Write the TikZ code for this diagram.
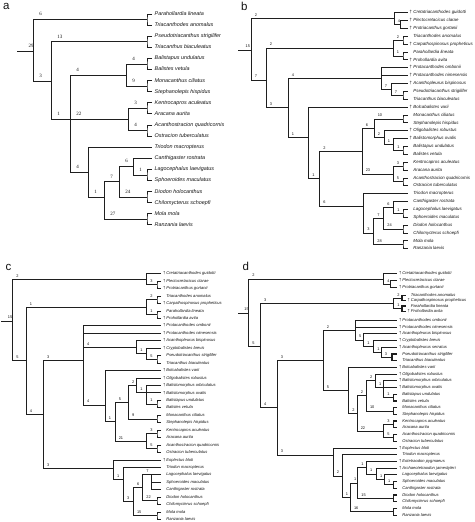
\documentclass[tikz,border=0pt]{standalone}
\usepackage{fontspec}
\setmainfont{Liberation Sans}
\newfontfamily\serifnum{Liberation Serif}
\usepackage{tikz}
\definecolor{Linea}{HTML}{1F1F1F}
\definecolor{Texto}{HTML}{141414}
\newcommand{\fos}{\textup{†}\ }
\newcommand{\viv}{\phantom{\textup{†}\ }}

\begin{document}
\begin{tikzpicture}[
  x=1pt,y=-1pt,
  rama/.style={draw=Linea,line width=0.9pt},
  par/.style={rama},
  pard/.style={rama,line width=1.25pt},
  taxa/.style={anchor=west,inner xsep=2.5pt,inner ysep=0pt,text=Texto,text height=3.9pt,text depth=1.1pt,font=\fontsize{5.4}{6}\selectfont\itshape},
  taxb/.style={taxa,inner xsep=2pt,text height=3.2pt,text depth=0.9pt,font=\fontsize{4.4}{5}\selectfont\itshape},
  taxc/.style={taxa,inner xsep=1.8pt,text height=3pt,text depth=0.8pt,font=\fontsize{4.1}{5}\selectfont\itshape},
  numa/.style={pos=0.5,anchor=south west,xshift=6pt,inner xsep=0pt,inner ysep=3.2pt,text=Texto,font=\serifnum\fontsize{5}{5}\selectfont},
  numb/.style={pos=0.5,anchor=south west,xshift=3.3pt,inner xsep=0pt,inner ysep=1.7pt,text=Texto,font=\fontsize{3.9}{4}\selectfont},
  raiz/.style={anchor=south,xshift=0pt},
  panel/.style={anchor=base west,inner sep=0pt,text=Texto,font=\fontsize{11.5}{12}\selectfont}
]
  \fill[white] (0,0) rectangle (474,522);
  \useasboundingbox (0,0) rectangle (474,522);

  \node[panel] (letA) at (3,9.3) {a};
  \node[panel] (letB) at (241,10) {b};
  \node[panel] (letC) at (5.5,270.7) {c};
  \node[panel] (letD) at (242.5,270.7) {d};

  % ---------------- a ----------------
  \coordinate (aR) at (17,51);
  \coordinate (a0) at (33,51);
  \coordinate (aP1) at (147,19.55);
  \coordinate (a1) at (51,81);
  \coordinate (aP2) at (147,41.75);
  \coordinate (a2) at (70,119.4);
  \coordinate (a3) at (126,75);
  \coordinate (aP3) at (147,63.95);
  \coordinate (aP4) at (147,86.15);
  \coordinate (a4) at (128,119.4);
  \coordinate (aP5) at (147,108.35);
  \coordinate (aP6) at (147,130.55);
  \coordinate (a5) at (88,172.2);
  \coordinate (a6) at (104,197.15);
  \coordinate (a7) at (119,181.9);
  \coordinate (a8) at (133,166.6);
  \coordinate (aP7) at (147,174.95);
  \coordinate (aP8) at (147,197.15);
  \coordinate (aP9) at (147,219.35);

  \node[taxa] (aL1) at (152,14.0) {Parahollardia lineata};
  \node[taxa] (aL2) at (152,25.1) {Triacanthodes anomalus};
  \node[taxa] (aL3) at (152,36.2) {Pseudotriacanthus strigilifer};
  \node[taxa] (aL4) at (152,47.3) {Triacanthus biaculeatus};
  \node[taxa] (aL5) at (152,58.4) {Balistapus undulatus};
  \node[taxa] (aL6) at (152,69.5) {Balistes vetula};
  \node[taxa] (aL7) at (152,80.6) {Monacanthus ciliatus};
  \node[taxa] (aL8) at (152,91.7) {Stephanolepis hispidus};
  \node[taxa] (aL9) at (152,102.8) {Kentrocapros aculeatus};
  \node[taxa] (aL10) at (152,113.9) {Aracana aurita};
  \node[taxa] (aL11) at (152,125.0) {Acanthostracion quadricornis};
  \node[taxa] (aL12) at (152,136.1) {Ostracion tuberculatus};
  \node[taxa] (aL13) at (152,147.2) {Triodon macropterus};
  \node[taxa] (aL14) at (152,158.3) {Canthigaster rostrata};
  \node[taxa] (aL15) at (152,169.4) {Lagocephalus laevigatus};
  \node[taxa] (aL16) at (152,180.5) {Sphoeroides maculatus};
  \node[taxa] (aL17) at (152,191.6) {Diodon holocanthus};
  \node[taxa] (aL18) at (152,202.7) {Chilomycterus schoepfi};
  \node[taxa] (aL19) at (152,213.8) {Mola mola};
  \node[taxa] (aL20) at (152,224.9) {Ranzania laevis};

  \draw[rama] (aR) -- node[numa,raiz] {29} (a0);
  \draw[rama] (a0) |- node[numa] {6} (aP1);
  \draw[rama] (a0) |- node[numa] {3} (a1);
  \draw[rama] (a1) |- node[numa] {13} (aP2);
  \draw[rama] (a1) |- node[numa] {1} (a2);
  \draw[rama] (a2) |- node[numa] {4} (a3);
  \draw[rama] (a2) |- node[numa] {22} (a4);
  \draw[rama] (a2) |- node[numa] {4} (a5);
  \draw[rama] (a3) |- node[numa] {4} (aP3);
  \draw[rama] (a3) |- node[numa] {9} (aP4);
  \draw[rama] (a4) |- node[numa] {3} (aP5);
  \draw[rama] (a4) |- node[numa] {4} (aP6);
  \draw[rama] (a5) |- (aL13.west);
  \draw[rama] (a5) |- node[numa] {1} (a6);
  \draw[rama] (a6) |- node[numa] {7} (a7);
  \draw[rama] (a6) |- node[numa] {27} (aP9);
  \draw[rama] (a7) |- node[numa] {6} (a8);
  \draw[rama] (a7) |- node[numa] {24} (aP8);
  \draw[rama] (a8) |- (aL14.west);
  \draw[rama] (a8) |- node[numa] {1} (aP7);
  \draw[par] (aL1.west) -| (aP1) |- (aL2.west);
  \draw[par] (aL3.west) -| (aP2) |- (aL4.west);
  \draw[par] (aL5.west) -| (aP3) |- (aL6.west);
  \draw[par] (aL7.west) -| (aP4) |- (aL8.west);
  \draw[par] (aL9.west) -| (aP5) |- (aL10.west);
  \draw[par] (aL11.west) -| (aP6) |- (aL12.west);
  \draw[par] (aL15.west) -| (aP7) |- (aL16.west);
  \draw[par] (aL17.west) -| (aP8) |- (aL18.west);
  \draw[par] (aL19.west) -| (aP9) |- (aL20.west);

  % ---------------- b ----------------
  \coordinate (bR) at (238,50);
  \coordinate (b0) at (251,50);
  \coordinate (bA) at (394,18.6);
  \coordinate (bP1) at (400.5,24.5);
  \coordinate (b1) at (266,80);
  \coordinate (bB) at (393,48.1);
  \coordinate (bP2) at (403,40.25);
  \coordinate (bP3) at (403,56);
  \coordinate (b2) at (288,107.5);
  \coordinate (bC) at (381,78.6);
  \coordinate (bD) at (391,89.4);
  \coordinate (bP4) at (403,95.3);
  \coordinate (b3) at (308.7,137.3);
  \coordinate (b4) at (319.7,178.6);
  \coordinate (b5) at (362,151.2);
  \coordinate (b7) at (374,128.3);
  \coordinate (bP5) at (403,118.95);
  \coordinate (b8) at (384,137.6);
  \coordinate (b9) at (393.7,144.5);
  \coordinate (bP6) at (403,150.4);
  \coordinate (bE) at (393,174.05);
  \coordinate (bP7) at (403,166.2);
  \coordinate (bP8) at (403,181.9);
  \coordinate (b6) at (363.7,206);
  \coordinate (bF) at (373.7,233);
  \coordinate (bG) at (383.7,218.3);
  \coordinate (bH) at (393.7,207.5);
  \coordinate (bP9) at (403,213.4);
  \coordinate (bP10) at (403,229.1);
  \coordinate (bP11) at (403,244.9);

  \node[taxb] (bL1) at (407.5,12.7) {\fos Cretatriacanthodes guidotti};
  \node[taxb] (bL2) at (407.5,20.57) {\fos Plectocretacicus clarae};
  \node[taxb] (bL3) at (407.5,28.44) {\fos Protriacanthus gortanii};
  \node[taxb] (bL4) at (407.5,36.31) {\viv Triacanthodes anomalus};
  \node[taxb] (bL5) at (407.5,44.18) {\fos Carpathospinosus propheticus};
  \node[taxb] (bL6) at (407.5,52.05) {\viv Parahollardia lineata};
  \node[taxb] (bL7) at (407.5,59.92) {\fos Prohollardia avita};
  \node[taxb] (bL8) at (407.5,67.79) {\fos Protacanthodes ombonii};
  \node[taxb] (bL9) at (407.5,75.66) {\fos Protacanthodes nimesensis};
  \node[taxb] (bL10) at (407.5,83.53) {\fos Acanthopleurus bispinosus};
  \node[taxb] (bL11) at (407.5,91.4) {\viv Pseudotriacanthus strigilifer};
  \node[taxb] (bL12) at (407.5,99.27) {\viv Triacanthus biaculeatus};
  \node[taxb] (bL13) at (407.5,107.14) {\fos Bolcabalistes varii};
  \node[taxb] (bL14) at (407.5,115.01) {\viv Monacanthus ciliatus};
  \node[taxb] (bL15) at (407.5,122.88) {\viv Stephanolepis hispidus};
  \node[taxb] (bL16) at (407.5,130.75) {\fos Oligobalistes robustus};
  \node[taxb] (bL17) at (407.5,138.62) {\fos Balistomorphus ovalis};
  \node[taxb] (bL18) at (407.5,146.49) {\viv Balistapus undulatus};
  \node[taxb] (bL19) at (407.5,154.36) {\viv Balistes vetula};
  \node[taxb] (bL20) at (407.5,162.23) {\viv Kentrocapros aculeatus};
  \node[taxb] (bL21) at (407.5,170.1) {\viv Aracana aurita};
  \node[taxb] (bL22) at (407.5,177.97) {\viv Acanthostracion quadricornis};
  \node[taxb] (bL23) at (407.5,185.84) {\viv Ostracion tuberculatus};
  \node[taxb] (bL24) at (407.5,193.71) {\viv Triodon macropterus};
  \node[taxb] (bL25) at (407.5,201.58) {\viv Canthigaster rostrata};
  \node[taxb] (bL26) at (407.5,209.45) {\viv Lagocephalus laevigatus};
  \node[taxb] (bL27) at (407.5,217.32) {\viv Sphoeroides maculatus};
  \node[taxb] (bL28) at (407.5,225.19) {\viv Diodon holocanthus};
  \node[taxb] (bL29) at (407.5,233.06) {\viv Chilomycterus schoepfi};
  \node[taxb] (bL30) at (407.5,240.93) {\viv Mola mola};
  \node[taxb] (bL31) at (407.5,248.8) {\viv Ranzania laevis};

  \draw[rama] (bR) -- node[numb,raiz] {15} (b0);
  \draw[rama] (b0) |- node[numb] {2} (bA);
  \draw[rama] (b0) |- node[numb] {7} (b1);
  \draw[rama] (bA) |- (bL1.west);
  \draw[rama] (bA) |- node[numb] {4} (bP1);
  \draw[rama] (b1) |- node[numb] {2} (bB);
  \draw[rama] (b1) |- node[numb] {3} (b2);
  \draw[rama] (bB) |- node[numb] {2} (bP2);
  \draw[rama] (bB) |- node[numb] {1} (bP3);
  \draw[rama] (b2) |- node[numb] {4} (bC);
  \draw[rama] (b2) |- node[numb] {1} (b3);
  \draw[rama] (bC) |- (bL8.west);
  \draw[rama] (bC) |- (bL9.west);
  \draw[rama] (bC) |- node[numb] {7} (bD);
  \draw[rama] (bD) |- (bL10.west);
  \draw[rama] (bD) |- node[numb] {7} (bP4);
  \draw[rama] (b3) |- (bL13.west);
  \draw[rama] (b3) |- node[numb] {1} (b4);
  \draw[rama] (b4) |- node[numb] {2} (b5);
  \draw[rama] (b4) |- node[numb] {6} (b6);
  \draw[rama] (b5) |- node[numb] {6} (b7);
  \draw[rama] (b5) |- node[numb] {23} (bE);
  \draw[rama] (b7) |- node[numb] {10} (bP5);
  \draw[rama] (b7) |- node[numb] {2} (b8);
  \draw[rama] (b8) |- (bL16.west);
  \draw[rama] (b8) |- node[numb] {1} (b9);
  \draw[rama] (b9) |- (bL17.west);
  \draw[rama] (b9) |- node[numb] {1} (bP6);
  \draw[rama] (bE) |- node[numb] {3} (bP7);
  \draw[rama] (bE) |- node[numb] {5} (bP8);
  \draw[rama] (b6) |- (bL24.west);
  \draw[rama] (b6) |- node[numb] {3} (bF);
  \draw[rama] (bF) |- node[numb] {7} (bG);
  \draw[rama] (bF) |- node[numb] {28} (bP11);
  \draw[rama] (bG) |- node[numb] {6} (bH);
  \draw[rama] (bG) |- node[numb] {24} (bP10);
  \draw[rama] (bH) |- (bL25.west);
  \draw[rama] (bH) |- node[numb] {1} (bP9);
  \draw[par] (bL2.west) -| (bP1) |- (bL3.west);
  \draw[par] (bL4.west) -| (bP2) |- (bL5.west);
  \draw[par] (bL6.west) -| (bP3) |- (bL7.west);
  \draw[par] (bL11.west) -| (bP4) |- (bL12.west);
  \draw[par] (bL14.west) -| (bP5) |- (bL15.west);
  \draw[par] (bL18.west) -| (bP6) |- (bL19.west);
  \draw[par] (bL20.west) -| (bP7) |- (bL21.west);
  \draw[par] (bL22.west) -| (bP8) |- (bL23.west);
  \draw[par] (bL26.west) -| (bP9) |- (bL27.west);
  \draw[par] (bL28.west) -| (bP10) |- (bL29.west);
  \draw[par] (bL30.west) -| (bP11) |- (bL31.west);

  % ---------------- c ----------------
  \coordinate (cR) at (1,321);
  \coordinate (c0) at (12.7,321);
  \coordinate (cA) at (146.7,279.3);
  \coordinate (cP1) at (157,284.9);
  \coordinate (c1) at (26,360.3);
  \coordinate (cB) at (146.7,307.2);
  \coordinate (cP2) at (157,299.8);
  \coordinate (cP3) at (157,314.7);
  \coordinate (c2) at (43.3,414.3);
  \coordinate (c3) at (83.3,360.3);
  \coordinate (c4) at (136.7,347.3);
  \coordinate (c6) at (146.7,353.8);
  \coordinate (cP4) at (157,359.4);
  \coordinate (c5) at (105,405);
  \coordinate (c7) at (115,421.8);
  \coordinate (c8) at (128.3,402.2);
  \coordinate (c9) at (136.7,385.45);
  \coordinate (c10) at (146.7,392.9);
  \coordinate (cP5) at (157,404.1);
  \coordinate (cP6) at (157,419);
  \coordinate (cD) at (146.7,441.3);
  \coordinate (cP7) at (157,433.9);
  \coordinate (cP8) at (157,448.8);
  \coordinate (cC) at (113.3,468.3);
  \coordinate (c11) at (123.3,479.3);
  \coordinate (c12) at (133.3,501.9);
  \coordinate (c13) at (142.7,487.9);
  \coordinate (c14) at (151.7,474.85);
  \coordinate (cP9) at (157,500.9);
  \coordinate (cP10) at (157,515.8);

  \node[taxc] (cL1) at (161,273.7) {\fos Cretatriacanthodes guidotti};
  \node[taxc] (cL2) at (161,281.15) {\fos Plectocretacicus clarae};
  \node[taxc] (cL3) at (161,288.6) {\fos Protriacanthus gortanii};
  \node[taxc] (cL4) at (161,296.05) {\viv Triacanthodes anomalus};
  \node[taxc] (cL5) at (161,303.5) {\fos Carpathospinosus propheticus};
  \node[taxc] (cL6) at (161,310.95) {\viv Parahollardia lineata};
  \node[taxc] (cL7) at (161,318.4) {\fos Prohollardia avita};
  \node[taxc] (cL8) at (161,325.85) {\fos Protacanthodes ombonii};
  \node[taxc] (cL9) at (161,333.3) {\fos Protacanthodes nimesensis};
  \node[taxc] (cL10) at (161,340.75) {\fos Acanthopleurus bispinosus};
  \node[taxc] (cL11) at (161,348.2) {\fos Cryptobalistes brevis};
  \node[taxc] (cL12) at (161,355.65) {\viv Pseudotriacanthus strigilifer};
  \node[taxc] (cL13) at (161,363.1) {\viv Triacanthus biaculeatus};
  \node[taxc] (cL14) at (161,370.55) {\fos Bolcabalistes varii};
  \node[taxc] (cL15) at (161,378.0) {\fos Oligobalistes robustus};
  \node[taxc] (cL16) at (161,385.45) {\fos Balistomorphus orbiculatus};
  \node[taxc] (cL17) at (161,392.9) {\fos Balistomorphus ovalis};
  \node[taxc] (cL18) at (161,400.35) {\viv Balistapus undulatus};
  \node[taxc] (cL19) at (161,407.8) {\viv Balistes vetula};
  \node[taxc] (cL20) at (161,415.25) {\viv Monacanthus ciliatus};
  \node[taxc] (cL21) at (161,422.7) {\viv Stephanolepis hispidus};
  \node[taxc] (cL22) at (161,430.15) {\viv Kentrocapros aculeatus};
  \node[taxc] (cL23) at (161,437.6) {\viv Aracana aurita};
  \node[taxc] (cL24) at (161,445.05) {\viv Acanthostracion quadricornis};
  \node[taxc] (cL25) at (161,452.5) {\viv Ostracion tuberculatus};
  \node[taxc] (cL26) at (161,459.95) {\fos Eoplectus bloti};
  \node[taxc] (cL27) at (161,467.4) {\viv Triodon macropterus};
  \node[taxc] (cL28) at (161,474.85) {\viv Lagocephalus laevigatus};
  \node[taxc] (cL29) at (161,482.3) {\viv Sphoeroides maculatus};
  \node[taxc] (cL30) at (161,489.75) {\viv Canthigaster rostrata};
  \node[taxc] (cL31) at (161,497.2) {\viv Diodon holocanthus};
  \node[taxc] (cL32) at (161,504.65) {\viv Chilomycterus schoepfi};
  \node[taxc] (cL33) at (161,512.1) {\viv Mola mola};
  \node[taxc] (cL34) at (161,519.55) {\viv Ranzania laevis};

  \draw[rama] (cR) -- node[numb,raiz] {15} (c0);
  \draw[rama] (c0) |- node[numb] {2} (cA);
  \draw[rama] (c0) |- node[numb] {5} (c1);
  \draw[rama] (cA) |- (cL1.west);
  \draw[rama] (cA) |- node[numb] {3} (cP1);
  \draw[rama] (c1) |- node[numb] {1} (cB);
  \draw[rama] (c1) |- node[numb] {4} (c2);
  \draw[rama] (cB) |- node[numb] {2} (cP2);
  \draw[rama] (cB) |- node[numb] {1} (cP3);
  \draw[rama] (c2) |- node[numb] {3} (c3);
  \draw[rama] (c2) |- node[numb] {3} (cC);
  \draw[rama] (c3) |- (cL8.west);
  \draw[rama] (c3) |- (cL9.west);
  \draw[rama] (c3) |- node[numb] {4} (c4);
  \draw[rama] (c3) |- node[numb] {4} (c5);
  \draw[rama] (c4) |- (cL10.west);
  \draw[rama] (c4) |- node[numb] {1} (c6);
  \draw[rama] (c6) |- (cL11.west);
  \draw[rama] (c6) |- node[numb] {5} (cP4);
  \draw[rama] (c5) |- (cL14.west);
  \draw[rama] (c5) |- node[numb] {1} (c7);
  \draw[rama] (c7) |- node[numb] {5} (c8);
  \draw[rama] (c7) |- node[numb] {21} (cD);
  \draw[rama] (c8) |- node[numb] {2} (c9);
  \draw[rama] (c8) |- node[numb] {9} (cP6);
  \draw[rama] (c9) |- (cL15.west);
  \draw[rama] (c9) |- node[numb] {1} (c10);
  \draw[rama] (c10) |- (cL16.west);
  \draw[rama] (c10) |- (cL17.west);
  \draw[rama] (c10) |- node[numb] {1} (cP5);
  \draw[rama] (cD) |- node[numb] {3} (cP7);
  \draw[rama] (cD) |- node[numb] {5} (cP8);
  \draw[rama] (cC) |- (cL26.west);
  \draw[rama] (cC) |- node[numb] {1} (c11);
  \draw[rama] (c11) |- (cL27.west);
  \draw[rama] (c11) |- node[numb] {3} (c12);
  \draw[rama] (c12) |- node[numb] {6} (c13);
  \draw[rama] (c12) |- node[numb] {15} (cP10);
  \draw[rama] (c13) |- node[numb] {7} (c14);
  \draw[rama] (c13) |- node[numb] {22} (cP9);
  \draw[rama] (c14) |- (cL28.west);
  \draw[rama] (c14) |- (cL29.west);
  \draw[rama] (c14) |- (cL30.west);
  \draw[par] (cL2.west) -| (cP1) |- (cL3.west);
  \draw[par] (cL4.west) -| (cP2) |- (cL5.west);
  \draw[par] (cL6.west) -| (cP3) |- (cL7.west);
  \draw[par] (cL12.west) -| (cP4) |- (cL13.west);
  \draw[par] (cL18.west) -| (cP5) |- (cL19.west);
  \draw[par] (cL20.west) -| (cP6) |- (cL21.west);
  \draw[par] (cL22.west) -| (cP7) |- (cL23.west);
  \draw[par] (cL24.west) -| (cP8) |- (cL25.west);
  \draw[par] (cL31.west) -| (cP9) |- (cL32.west);
  \draw[par] (cL33.west) -| (cP10) |- (cL34.west);

  % ---------------- d ----------------
  \coordinate (dR) at (238,313);
  \coordinate (d0) at (248.7,313);
  \coordinate (dA) at (383.7,279);
  \coordinate (dP1) at (390.7,284.3);
  \coordinate (d1) at (260.3,346.3);
  \coordinate (dB) at (393.7,303.4);
  \coordinate (dP2) at (402,298.2);
  \coordinate (dP3) at (402,308.7);
  \coordinate (d2) at (277,407.7);
  \coordinate (d3) at (323,360.4);
  \coordinate (d4) at (355.3,330.2);
  \coordinate (d6) at (363.7,340);
  \coordinate (d7) at (373.7,346.3);
  \coordinate (d8) at (381,352.2);
  \coordinate (dP4) at (392,357.3);
  \coordinate (d5) at (348.7,390.5);
  \coordinate (d9) at (357,413.6);
  \coordinate (d10) at (366.3,395.9);
  \coordinate (d11) at (375.3,380.8);
  \coordinate (d12) at (383.7,387.5);
  \coordinate (dP5) at (393.7,397.6);
  \coordinate (dP6) at (393.7,411);
  \coordinate (dD) at (383.7,431.2);
  \coordinate (dP7) at (393.7,424.5);
  \coordinate (dP8) at (393.7,437.9);
  \coordinate (dC) at (333,455);
  \coordinate (d13) at (342,476);
  \coordinate (d14) at (350.3,497.4);
  \coordinate (d15) at (357.7,483);
  \coordinate (d16) at (366.3,467.7);
  \coordinate (d17) at (376.3,474);
  \coordinate (d18) at (384.3,479.9);
  \coordinate (dP9) at (393.7,484.9);
  \coordinate (dP10) at (393.7,498.4);
  \coordinate (dP11) at (393.7,511.8);

  \node[taxc] (dL1) at (397,273.7) {\fos Cretatriacanthodes guidotti};
  \node[taxc] (dL2) at (397,280.75) {\fos Plectocretacicus clarae};
  \node[taxc] (dL3) at (397,287.8) {\fos Protriacanthus gortanii};
  \node[taxc] (dL4) at (405.5,295.5) {\viv Triacanthodes anomalus};
  \node[taxc] (dL5) at (405.5,300.8) {\fos Carpathospinosus propheticus};
  \node[taxc] (dL6) at (405.5,306) {\viv Parahollardia lineata};
  \node[taxc] (dL7) at (405.5,311.3) {\fos Prohollardia avita};
  \node[taxc] (dL8) at (397,320.3) {\fos Protacanthodes ombonii};
  \node[taxc] (dL9) at (397,327.02) {\fos Protacanthodes nimesensis};
  \node[taxc] (dL10) at (397,333.74) {\fos Acanthopleurus bispinosus};
  \node[taxc] (dL11) at (397,340.46) {\fos Cryptobalistes brevis};
  \node[taxc] (dL12) at (397,347.18) {\fos Acanthopleurus serratus};
  \node[taxc] (dL13) at (397,353.9) {\viv Pseudotriacanthus strigilifer};
  \node[taxc] (dL14) at (397,360.62) {\viv Triacanthus biaculeatus};
  \node[taxc] (dL15) at (397,367.34) {\fos Bolcabalistes varii};
  \node[taxc] (dL16) at (397,374.06) {\fos Oligobalistes robustus};
  \node[taxc] (dL17) at (397,380.78) {\fos Balistomorphus orbiculatus};
  \node[taxc] (dL18) at (397,387.5) {\fos Balistomorphus ovalis};
  \node[taxc] (dL19) at (397,394.22) {\viv Balistapus undulatus};
  \node[taxc] (dL20) at (397,400.94) {\viv Balistes vetula};
  \node[taxc] (dL21) at (397,407.66) {\viv Monacanthus ciliatus};
  \node[taxc] (dL22) at (397,414.38) {\viv Stephanolepis hispidus};
  \node[taxc] (dL23) at (397,421.1) {\viv Kentrocapros aculeatus};
  \node[taxc] (dL24) at (397,427.82) {\viv Aracana aurita};
  \node[taxc] (dL25) at (397,434.54) {\viv Acanthostracion quadricornis};
  \node[taxc] (dL26) at (397,441.26) {\viv Ostracion tuberculatus};
  \node[taxc] (dL27) at (397,447.98) {\fos Eoplectus bloti};
  \node[taxc] (dL28) at (397,454.7) {\viv Triodon macropterus};
  \node[taxc] (dL29) at (397,461.42) {\fos Eotetraodon pygmaeus};
  \node[taxc] (dL30) at (397,468.14) {\fos Archaeotetraodon jamestyleri};
  \node[taxc] (dL31) at (397,474.86) {\viv Lagocephalus laevigatus};
  \node[taxc] (dL32) at (397,481.58) {\viv Sphoeroides maculatus};
  \node[taxc] (dL33) at (397,488.3) {\viv Canthigaster rostrata};
  \node[taxc] (dL34) at (397,495.02) {\viv Diodon holocanthus};
  \node[taxc] (dL35) at (397,501.74) {\viv Chilomycterus schoepfi};
  \node[taxc] (dL36) at (397,508.46) {\viv Mola mola};
  \node[taxc] (dL37) at (397,515.18) {\viv Ranzania laevis};

  \draw[rama] (dR) -- node[numb,raiz] {15} (d0);
  \draw[rama] (d0) |- node[numb] {2} (dA);
  \draw[rama] (d0) |- node[numb] {5} (d1);
  \draw[rama] (dA) |- (dL1.west);
  \draw[rama] (dA) |- node[numb] {4} (dP1);
  \draw[rama] (d1) |- node[numb] {3} (dB);
  \draw[rama] (d1) |- node[numb] {4} (d2);
  \draw[rama] (dB) |- node[numb] {2} (dP2);
  \draw[rama] (dB) |- node[numb] {1} (dP3);
  \draw[rama] (d2) |- node[numb] {3} (d3);
  \draw[rama] (d2) |- node[numb] {3} (dC);
  \draw[rama] (d3) |- node[numb] {2} (d4);
  \draw[rama] (d3) |- node[numb] {5} (d5);
  \draw[rama] (d4) |- (dL8.west);
  \draw[rama] (d4) |- (dL9.west);
  \draw[rama] (d4) |- node[numb] {5} (d6);
  \draw[rama] (d6) |- (dL10.west);
  \draw[rama] (d6) |- node[numb] {1} (d7);
  \draw[rama] (d7) |- (dL11.west);
  \draw[rama] (d7) |- node[numb] {1} (d8);
  \draw[rama] (d8) |- (dL12.west);
  \draw[rama] (d8) |- node[numb] {3} (dP4);
  \draw[rama] (d5) |- (dL15.west);
  \draw[rama] (d5) |- node[numb] {2} (d9);
  \draw[rama] (d9) |- node[numb] {2} (d10);
  \draw[rama] (d9) |- node[numb] {22} (dD);
  \draw[rama] (d10) |- node[numb] {2} (d11);
  \draw[rama] (d10) |- node[numb] {10} (dP6);
  \draw[rama] (d11) |- (dL16.west);
  \draw[rama] (d11) |- node[numb] {1} (d12);
  \draw[rama] (d12) |- (dL17.west);
  \draw[rama] (d12) |- (dL18.west);
  \draw[rama] (d12) |- node[numb] {1} (dP5);
  \draw[rama] (dD) |- node[numb] {3} (dP7);
  \draw[rama] (dD) |- node[numb] {5} (dP8);
  \draw[rama] (dC) |- (dL27.west);
  \draw[rama] (dC) |- node[numb] {2} (d13);
  \draw[rama] (d13) |- (dL28.west);
  \draw[rama] (d13) |- node[numb] {1} (d14);
  \draw[rama] (d14) |- node[numb] {1} (d15);
  \draw[rama] (d14) |- node[numb] {16} (dP11);
  \draw[rama] (d15) |- node[numb] {1} (d16);
  \draw[rama] (d15) |- node[numb] {15} (dP10);
  \draw[rama] (d16) |- (dL29.west);
  \draw[rama] (d16) |- node[numb] {1} (d17);
  \draw[rama] (d17) |- (dL30.west);
  \draw[rama] (d17) |- node[numb] {1} (d18);
  \draw[rama] (d18) |- (dL31.west);
  \draw[rama] (d18) |- node[numb] {1} (dP9);
  \draw[pard] (dL2.west) -| (dP1) |- (dL3.west);
  \draw[pard] (dL4.west) -| (dP2) |- (dL5.west);
  \draw[pard] (dL6.west) -| (dP3) |- (dL7.west);
  \draw[pard] (dL13.west) -| (dP4) |- (dL14.west);
  \draw[pard] (dL19.west) -| (dP5) |- (dL20.west);
  \draw[pard] (dL21.west) -| (dP6) |- (dL22.west);
  \draw[pard] (dL23.west) -| (dP7) |- (dL24.west);
  \draw[pard] (dL25.west) -| (dP8) |- (dL26.west);
  \draw[pard] (dL32.west) -| (dP9) |- (dL33.west);
  \draw[pard] (dL34.west) -| (dP10) |- (dL35.west);
  \draw[pard] (dL36.west) -| (dP11) |- (dL37.west);
\end{tikzpicture}
\end{document}
